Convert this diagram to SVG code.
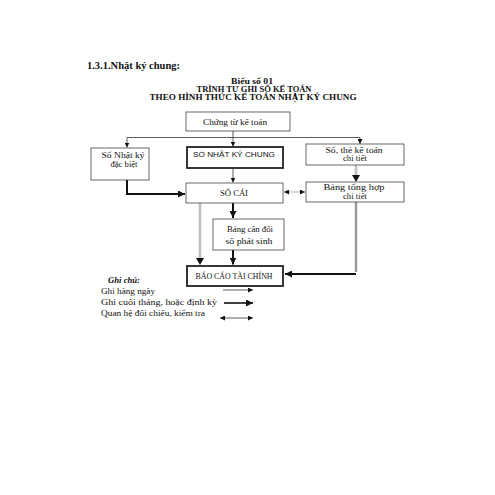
<svg xmlns="http://www.w3.org/2000/svg" width="495" height="495" viewBox="0 0 495 495">
<style>
text{font-family:"Liberation Serif","Times New Roman",serif;fill:#111;}
.t{font-size:7.5px;text-anchor:middle;}
.b{font-weight:bold;}
.box{fill:#fff;stroke:#444;stroke-width:0.8;}
.tbox{fill:#fff;stroke:#222;stroke-width:1.8;}
.thin{stroke:#333;stroke-width:0.8;fill:none;}
.thick{stroke:#111;stroke-width:2;fill:none;}
.gray{stroke:#999;stroke-width:2.4;fill:none;}
.dot{stroke:#555;stroke-width:0.7;stroke-dasharray:1.5,1;fill:none;}
.lg{font-size:7.5px;}
</style>
<defs>
<marker id="a" viewBox="0 0 10 10" refX="10" refY="5" markerWidth="7" markerHeight="7" markerUnits="userSpaceOnUse" orient="auto"><path d="M0,0L10,5L0,10z" fill="#111"/></marker>
<marker id="as" viewBox="0 0 10 10" refX="10" refY="5" markerWidth="5" markerHeight="5" markerUnits="userSpaceOnUse" orient="auto-start-reverse"><path d="M0,0L10,5L0,10z" fill="#111"/></marker>
</defs>
<rect width="495" height="495" fill="#fff"/>
<text x="87" y="69" class="b" font-size="10" textLength="93" lengthAdjust="spacingAndGlyphs">1.3.1.Nhật ký chung:</text>
<text x="252" y="83.5" class="t b" font-size="8" textLength="42" lengthAdjust="spacingAndGlyphs">Biểu số 01</text>
<text x="254" y="91.5" class="t b" font-size="7" textLength="115" lengthAdjust="spacingAndGlyphs">TRÌNH TỰ GHI SỔ KẾ TOÁN</text>
<text x="253" y="99.5" class="t b" font-size="7" textLength="207" lengthAdjust="spacingAndGlyphs">THEO HÌNH THỨC KẾ TOÁN NHẬT KÝ CHUNG</text>

<g id="connectors">
<path class="thin" d="M127,137.5H360"/>
<path class="thin" d="M127,137.5V147.5" marker-end="url(#as)"/>
<path class="thin" d="M233,131V146.5" marker-end="url(#as)"/>
<path class="thin" d="M360,137.5V144" marker-end="url(#as)"/>
<path class="thin" d="M233,168V182.5" marker-end="url(#as)"/>
<path class="thick" d="M127,180V194H185" marker-end="url(#a)"/>
<path class="dot" d="M284,192H305" marker-start="url(#as)" marker-end="url(#as)"/>
<path class="gray" d="M356,165V175"/>
<path stroke="#fff" stroke-width="0.8" d="M356,165V175"/>
<path d="M352,175L360,175L356,182z" fill="#111"/>
<path class="thick" d="M233,203V218" marker-end="url(#a)"/>
<path class="thick" d="M233,250V264.5" marker-end="url(#a)"/>
<path class="gray" d="M200,203V258"/>
<path stroke="#fff" stroke-width="0.8" d="M200,203V258"/>
<path d="M196,258L204,258L200,265z" fill="#111"/>
<path class="gray" d="M356,202V272"/>
<path class="thick" d="M356,274H285" marker-end="url(#a)" style="stroke-width:1.8"/>
</g>

<g id="n1"><rect class="box" x="186" y="112" width="104" height="19"/><text class="t" x="235" y="124.5" textLength="64" lengthAdjust="spacingAndGlyphs">Chứng từ kế toán</text></g>
<g id="n2"><rect class="box" x="91" y="148" width="58" height="32"/><text class="t" x="123" y="158" textLength="43" lengthAdjust="spacingAndGlyphs">Sổ Nhật ký</text><text class="t" x="124" y="167" textLength="27" lengthAdjust="spacingAndGlyphs">đặc biệt</text></g>
<g id="n3"><rect class="tbox" x="187" y="147" width="96" height="21"/><text class="t" x="234" y="156.5" textLength="82" lengthAdjust="spacingAndGlyphs" style="font-family:'Liberation Sans',Arial,sans-serif;font-size:7px">SỔ NHẬT KÝ CHUNG</text></g>
<g id="n4"><rect class="box" x="306" y="144" width="98" height="21"/><text class="t" x="354" y="152.5" textLength="57" lengthAdjust="spacingAndGlyphs">Sổ, thẻ kế toán</text><text class="t" x="355" y="161" textLength="24" lengthAdjust="spacingAndGlyphs">chi tiết</text></g>
<g id="n5"><rect class="box" x="186" y="183" width="97" height="20"/><text class="t" x="234" y="195.5" textLength="28" lengthAdjust="spacingAndGlyphs">SỔ CÁI</text></g>
<g id="n6"><rect class="box" x="306" y="182" width="98" height="20"/><text class="t" x="354" y="190" textLength="61" lengthAdjust="spacingAndGlyphs">Bảng tổng hợp</text><text class="t" x="355" y="198.5" textLength="24" lengthAdjust="spacingAndGlyphs">chi tiết</text></g>
<g id="n7"><rect class="box" x="213" y="219" width="71" height="31"/><text class="t" x="250" y="231.5" textLength="46" lengthAdjust="spacingAndGlyphs">Bảng cân đối</text><text class="t" x="249" y="244" textLength="47" lengthAdjust="spacingAndGlyphs">số phát sinh</text></g>
<g id="n8"><rect class="tbox" x="187" y="266" width="96" height="20"/><text class="t" x="234" y="278.5" font-size="7" textLength="77" lengthAdjust="spacingAndGlyphs">BÁO CÁO TÀI CHÍNH</text></g>

<g id="legend">
<text x="108" y="283" class="b lg" font-style="italic" textLength="32" lengthAdjust="spacingAndGlyphs">Ghi chú:</text>
<text x="101" y="294" class="lg" textLength="54" lengthAdjust="spacingAndGlyphs">Ghi hàng ngày</text>
<text x="101" y="305" class="lg" textLength="116" lengthAdjust="spacingAndGlyphs">Ghi cuối tháng, hoặc định kỳ</text>
<text x="101" y="316" class="lg" textLength="104" lengthAdjust="spacingAndGlyphs">Quan hệ đối chiếu, kiểm tra</text>
<path class="thin" d="M223,290H253" marker-end="url(#as)"/>
<path class="thick" d="M224,303H253" marker-end="url(#a)" style="stroke-width:1.6"/>
<path class="thin" d="M220,318H253" marker-start="url(#as)" marker-end="url(#as)"/>
</g>
</svg>
